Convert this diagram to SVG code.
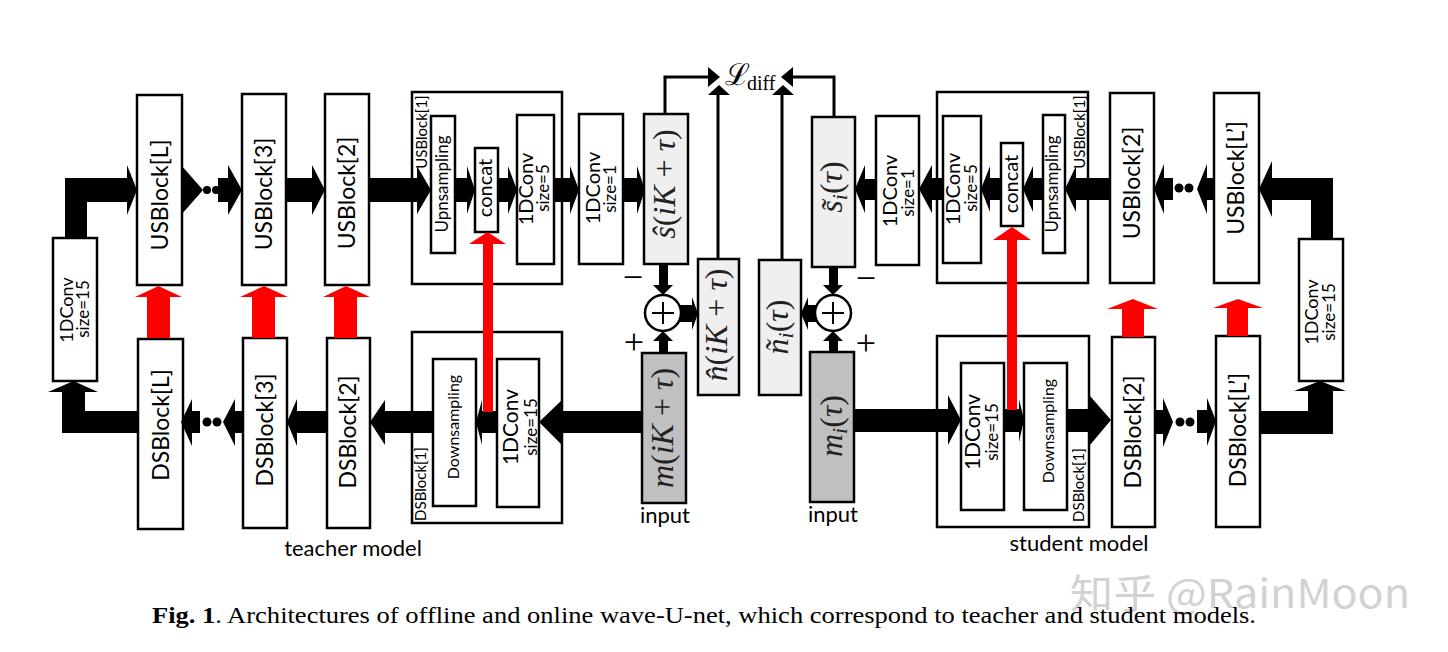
<svg xmlns="http://www.w3.org/2000/svg" width="1448" height="652" viewBox="0 0 1448 652">
<style>
.box{fill:#fff;stroke:#000;stroke-width:2.5}
.lt{fill:#efefef}
.dk{fill:#c0c0c0}
.blk{fill:#000}
.red{fill:#ff0000}
.ln{fill:none;stroke:#000;stroke-width:3}
.t{font-family:Lato,"Open Sans",sans-serif;fill:#000;text-anchor:middle}
.big{font-size:23px}
.md{font-size:20px}
.sm{font-size:17px}
.lb{font-size:15px}
.m{font-family:"Liberation Serif",serif;font-size:32px;fill:#222;text-anchor:middle}
.i{font-style:italic}
.sg{font-family:"Liberation Serif",serif;font-size:36px;fill:#000;text-anchor:middle}
</style>
<rect width="1448" height="652" fill="#fff"/>

<!-- ===== Teacher model (left) ===== -->
<g id="t-conv15-out">
<rect class="box" x="53" y="238" width="44" height="143"/>
<text class="t" font-size="18" transform="translate(73,310) rotate(-90)">1DConv</text>
<text class="t" font-size="17" transform="translate(89,309) rotate(-90)">size=15</text>
</g>
<g id="t-usL"><rect class="box" x="137" y="95" width="45" height="190"/><text class="t big" transform="translate(160,195) rotate(-90)" y="8">USBlock[L]</text></g>
<g id="t-us3"><rect class="box" x="242" y="94" width="44" height="191"/><text class="t big" transform="translate(264,194) rotate(-90)" y="8">USBlock[3]</text></g>
<g id="t-us2"><rect class="box" x="325" y="94" width="44" height="191"/><text class="t big" transform="translate(347,193) rotate(-90)" y="8">USBlock[2]</text></g>
<g id="t-us1">
<rect class="box" x="412" y="92" width="150" height="192"/>
<text class="t lb" transform="translate(427,132) rotate(-90)">USBlock[1]</text>
<rect class="box" x="431" y="116" width="24" height="137"/>
<text class="t" font-size="17" transform="translate(448,184) rotate(-90)">Upnsampling</text>
<rect class="box" x="475" y="148" width="23" height="84"/>
<text class="t md" transform="translate(492,188) rotate(-90)">concat</text>
<rect class="box" x="517" y="115" width="37" height="149"/>
<text class="t md" transform="translate(533,189) rotate(-90)">1DConv</text>
<text class="t sm" transform="translate(549,188) rotate(-90)">size=5</text>
</g>
<g id="t-conv1">
<rect class="box" x="579" y="114" width="44" height="150"/>
<text class="t md" transform="translate(600,188) rotate(-90)">1DConv</text>
<text class="t sm" transform="translate(616,189) rotate(-90)">size=1</text>
</g>
<g id="t-shat">
<rect class="box lt" x="644" y="114" width="44" height="150"/>
<text class="m" transform="translate(666,184) rotate(-90)" y="9"><tspan class="i">ŝ</tspan>(<tspan class="i">iK</tspan> + <tspan class="i">τ</tspan>)</text>
</g>
<g id="t-dsL"><rect class="box" x="138" y="339" width="45" height="190"/><text class="t big" transform="translate(161,425) rotate(-90)" y="8">DSBlock[L]</text></g>
<g id="t-ds3"><rect class="box" x="243" y="338" width="44" height="190"/><text class="t big" transform="translate(265,430) rotate(-90)" y="8">DSBlock[3]</text></g>
<g id="t-ds2"><rect class="box" x="327" y="338" width="43" height="190"/><text class="t big" transform="translate(348,432) rotate(-90)" y="8">DSBlock[2]</text></g>
<g id="t-ds1">
<rect class="box" x="412" y="332" width="150" height="191"/>
<text class="t lb" transform="translate(426,484) rotate(-90)">DSBlock[1]</text>
<rect class="box" x="433" y="359" width="43" height="147"/>
<text class="t" font-size="16" transform="translate(459,427) rotate(-90)">Downsampling</text>
<rect class="box" x="497" y="359" width="42" height="148"/>
<text class="t" font-size="21" transform="translate(518,427) rotate(-90)">1DConv</text>
<text class="t" font-size="17" transform="translate(537,427) rotate(-90)">size=15</text>
</g>
<g id="t-input">
<rect class="box dk" x="642" y="353" width="44" height="150"/>
<text class="m" transform="translate(664,428) rotate(-90)" y="9"><tspan class="i">m</tspan>(<tspan class="i">iK</tspan> + <tspan class="i">τ</tspan>)</text>
<text class="t" font-size="22" x="665" y="523">input</text>
</g>
<g id="t-nhat">
<rect class="box lt" x="698" y="259" width="41" height="136"/>
<text class="m" transform="translate(718,325) rotate(-90)" y="9"><tspan class="i">n̂</tspan>(<tspan class="i">iK</tspan> + <tspan class="i">τ</tspan>)</text>
</g>
<g id="t-sum">
<circle cx="663" cy="313" r="18" fill="#fff" stroke="#000" stroke-width="2.5"/>
<path d="M652,313H674M663,302V324" stroke="#000" stroke-width="2"/>
<text class="sg" x="633" y="289">−</text>
<text class="sg" x="634" y="354">+</text>
</g>
<g id="t-label"><text class="t" font-size="22" x="353" y="556">teacher model</text></g>

<!-- ===== Loss ===== -->
<g id="loss">
<text font-family="'DejaVu Serif','Liberation Serif',serif" font-size="30" x="725" y="85">ℒ</text>
<text font-family="'Liberation Serif',serif" font-size="20" x="747" y="90">diff</text>
</g>

<!-- ===== Student model (right) ===== -->
<g id="s-ntilde">
<rect class="box lt" x="759" y="260" width="42" height="135"/>
<text class="m" transform="translate(779,327) rotate(-90)" y="9"><tspan class="i">ñ</tspan><tspan class="i" font-size="22" dy="5">i</tspan><tspan dy="-5">(</tspan><tspan class="i">τ</tspan>)</text>
</g>
<g id="s-stilde">
<rect class="box lt" x="812" y="117" width="43" height="150"/>
<text class="m" transform="translate(833,187) rotate(-90)" y="9"><tspan class="i">s̃</tspan><tspan class="i" font-size="22" dy="5">i</tspan><tspan dy="-5">(</tspan><tspan class="i">τ</tspan>)</text>
</g>
<g id="s-input">
<rect class="box dk" x="810" y="352" width="44" height="150"/>
<text class="m" transform="translate(833,426) rotate(-90)" y="9"><tspan class="i">m</tspan><tspan class="i" font-size="22" dy="5">i</tspan><tspan dy="-5">(</tspan><tspan class="i">τ</tspan>)</text>
<text class="t" font-size="22" x="833" y="522">input</text>
</g>
<g id="s-sum">
<circle cx="833" cy="313" r="18" fill="#fff" stroke="#000" stroke-width="2.5"/>
<path d="M822,313H844M833,302V324" stroke="#000" stroke-width="2"/>
<text class="sg" x="866" y="290">−</text>
<text class="sg" x="866" y="355">+</text>
</g>
<g id="s-conv1">
<rect class="box" x="876" y="116" width="43" height="149"/>
<text class="t md" transform="translate(897,191) rotate(-90)">1DConv</text>
<text class="t sm" transform="translate(914,193) rotate(-90)">size=1</text>
</g>
<g id="s-us1">
<rect class="box" x="937" y="92" width="151" height="191"/>
<text class="t lb" transform="translate(1085,132) rotate(-90)">USBlock[1]</text>
<rect class="box" x="943" y="116" width="38" height="147"/>
<text class="t md" transform="translate(960,189) rotate(-90)">1DConv</text>
<text class="t sm" transform="translate(977,188) rotate(-90)">size=5</text>
<rect class="box" x="1001" y="143" width="22" height="83"/>
<text class="t md" transform="translate(1018,184) rotate(-90)">concat</text>
<rect class="box" x="1043" y="115" width="22" height="138"/>
<text class="t" font-size="17" transform="translate(1058,184) rotate(-90)">Upnsampling</text>
</g>
<g id="s-us2"><rect class="box" x="1110" y="93" width="44" height="190"/><text class="t big" transform="translate(1132,183) rotate(-90)" y="8">USBlock[2]</text></g>
<g id="s-usL"><rect class="box" x="1214" y="93" width="45" height="190"/><text class="t big" transform="translate(1236,178) rotate(-90)" y="8">USBlock[L’]</text></g>
<g id="s-ds1">
<rect class="box" x="937" y="336" width="152" height="191"/>
<text class="t lb" transform="translate(1084,485) rotate(-90)">DSBlock[1]</text>
<rect class="box" x="961" y="363" width="43" height="147"/>
<text class="t" font-size="21" transform="translate(980,432) rotate(-90)">1DConv</text>
<text class="t" font-size="17" transform="translate(998,432) rotate(-90)">size=15</text>
<rect class="box" x="1024" y="363" width="43" height="147"/>
<text class="t" font-size="16" transform="translate(1054,431) rotate(-90)">Downsampling</text>
</g>
<g id="s-ds2"><rect class="box" x="1112" y="337" width="43" height="190"/><text class="t big" transform="translate(1133,432) rotate(-90)" y="8">DSBlock[2]</text></g>
<g id="s-dsL"><rect class="box" x="1216" y="336" width="44" height="191"/><text class="t big" transform="translate(1238,430) rotate(-90)" y="8">DSBlock[L’]</text></g>
<g id="s-conv15-out">
<rect class="box" x="1299" y="239" width="44" height="142"/>
<text class="t" font-size="18" transform="translate(1318,312) rotate(-90)">1DConv</text>
<text class="t" font-size="17" transform="translate(1335,312) rotate(-90)">size=15</text>
</g>
<g id="s-label"><text class="t" font-size="22" x="1079" y="551">student model</text></g>

<!-- ===== Connectors ===== -->
<g id="connectors">
<!-- teacher upper path -->
<polygon class="blk" points="65,238 65,178 127,178 127,165 137,190 127,215 127,202 87,202 87,238"/>
<polygon class="blk" points="181,165 203,190 181,215"/>
<circle class="blk" cx="207" cy="190" r="4"/><circle class="blk" cx="216" cy="190" r="4"/>
<polygon class="blk" points="218,178 228,178 228,165 242,190 228,215 228,202 218,202"/>
<polygon class="blk" points="286,178 312,178 312,165 325,190 312,215 312,202 286,202"/>
<polygon class="blk" points="369,178 417,178 417,166 431,190 417,214 417,202 369,202"/>
<polygon class="blk" points="455,178 467,178 467,166 475,190 467,214 467,202 455,202"/>
<polygon class="blk" points="498,178 508,178 508,166 517,190 508,214 508,202 498,202"/>
<polygon class="blk" points="554,178 570,178 570,166 579,190 570,214 570,202 554,202"/>
<polygon class="blk" points="623,178 637,178 637,166 645,190 637,214 637,202 623,202"/>
<!-- teacher lower path -->
<polygon class="blk" points="642,411 562,411 562,400 539,422 562,445 562,433 642,433"/>
<polygon class="blk" points="497,411 482,411 482,400 476,422 482,445 482,433 497,433"/>
<polygon class="blk" points="433,411 385,411 385,400 370,422 385,445 385,433 433,433"/>
<polygon class="blk" points="327,411 297,411 297,399 287,422 297,446 297,433 327,433"/>
<polygon class="blk" points="243,411 235,411 235,399 223,422 235,446 235,433 243,433"/>
<circle class="blk" cx="207" cy="422" r="4.5"/><circle class="blk" cx="217" cy="422" r="4.5"/>
<polygon class="blk" points="200,411 192,411 192,399 181,422 192,446 192,433 200,433"/>
<polygon class="blk" points="138,411 85,411 85,392 98,392 73.5,381 48,392 62,392 62,433 138,433"/>
<!-- teacher skip (red) -->
<polygon class="red" points="147,338 147,297 135,297 158.5,286 182,297 170,297 170,338"/>
<polygon class="red" points="252,338 252,297 240,297 264,286 288,297 275,297 275,338"/>
<polygon class="red" points="334,338 334,297 323,297 346,286 370,297 357,297 357,338"/>
<polygon class="red" points="483,412 483,244 469,244 487.5,232 506,244 493,244 493,412"/>
<!-- teacher sum -->
<polygon class="blk" points="659,264 659,285 653,285 663,295 673,285 668,285 668,264"/>
<polygon class="blk" points="659,352 659,341 653,341 663,331 673,341 668,341 668,352"/>
<polygon class="blk" points="680,305 692,305 692,297 698,313.5 692,330 692,322 680,322"/>
<!-- loss lines -->
<polyline class="ln" points="665,114 665,77 709,77"/>
<polygon class="blk" points="708,67 720,77 708,87"/>
<line class="ln" x1="718" y1="259" x2="718" y2="94"/>
<polygon class="blk" points="708,95 719,85 730,95"/>
<line class="ln" x1="782" y1="260" x2="782" y2="94"/>
<polygon class="blk" points="772,95 783,85 794,95"/>
<polyline class="ln" points="834,117 834,77 792,77"/>
<polygon class="blk" points="793,67 781,77 793,87"/>
<!-- student sum -->
<polygon class="blk" points="829,267 829,285 823,285 833,295 843,285 838,285 838,267"/>
<polygon class="blk" points="829,351 829,341 823,341 833,331 843,341 838,341 838,351"/>
<polygon class="blk" points="816,305 808,305 808,297 801,313.5 808,330 808,322 816,322"/>
<!-- student upper path -->
<polygon class="blk" points="1333,239 1333,178 1272,178 1272,161 1259,189 1272,217 1272,200 1311,200 1311,239"/>
<polygon class="blk" points="1214,178 1207,178 1207,164 1197,189 1207,214 1207,200 1214,200"/>
<circle class="blk" cx="1179" cy="188" r="4.5"/><circle class="blk" cx="1189" cy="188" r="4.5"/>
<polygon class="blk" points="1173,178 1164,178 1164,164 1154,189 1164,214 1164,200 1173,200"/>
<polygon class="blk" points="1110,178 1076,178 1076,166 1065,189 1076,212 1076,200 1110,200"/>
<polygon class="blk" points="1043,178 1033,178 1033,166 1023,189 1033,212 1033,200 1043,200"/>
<polygon class="blk" points="1001,178 990,178 990,166 981,189 990,212 990,200 1001,200"/>
<polygon class="blk" points="943,178 932,178 932,165 919,189 932,213 932,200 943,200"/>
<polygon class="blk" points="876,179 865,179 865,165 855,189 865,213 865,200 876,200"/>
<!-- student lower path -->
<polygon class="blk" points="854,409 948,409 948,395 961,420 948,445 948,432 854,432"/>
<polygon class="blk" points="1004,409 1019,409 1019,399 1024,420 1019,442 1019,432 1004,432"/>
<polygon class="blk" points="1067,409 1090,409 1090,396 1111,420 1090,445 1090,432 1067,432"/>
<polygon class="blk" points="1155,410 1163,410 1163,398 1173,422 1163,447 1163,434 1155,434"/>
<circle class="blk" cx="1180" cy="422" r="4.5"/><circle class="blk" cx="1190" cy="422" r="4.5"/>
<polygon class="blk" points="1197,410 1207,410 1207,398 1216,421 1207,446 1207,433 1197,433"/>
<polygon class="blk" points="1260,411 1308,411 1308,391 1294,391 1320,381 1346,391 1333,391 1333,434 1260,434"/>
<!-- student skip (red) -->
<polygon class="red" points="1007,410 1007,240 993,240 1012,227 1031,240 1017,240 1017,410"/>
<polygon class="red" points="1122,337 1122,309 1107,309 1133,299 1158,309 1144,309 1144,337"/>
<polygon class="red" points="1227,336 1227,308 1213,308 1238,299 1263,308 1248,308 1248,336"/>
</g>

<!-- caption & watermark -->
<text x="1070" y="608" font-family="'Noto Sans CJK SC',sans-serif" font-size="40" fill="#d2d2d2" textLength="340" lengthAdjust="spacingAndGlyphs">知乎 @RainMoon</text>
<text x="152" y="623" font-family="'Liberation Serif',serif" font-size="24" textLength="1104" lengthAdjust="spacingAndGlyphs"><tspan font-weight="bold">Fig. 1</tspan>. Architectures of offline and online wave-U-net, which correspond to teacher and student models.</text>
</svg>
